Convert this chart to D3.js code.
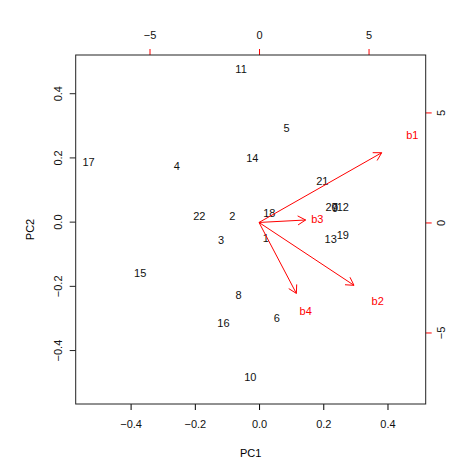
<!DOCTYPE html>
<html>
<head>
    <meta charset="utf-8">
    <style>
        body { margin: 0; background: white; }
        svg { font-family: 'Liberation Sans', Arial, sans-serif; }
    </style>
</head>
<body>
<svg width="474" height="474"></svg>
<script src="https://d3js.org/d3.v7.min.js"></script>
<script>
    // observation scores (PC1, PC2)
    let obsLabels = ["1", "2", "3", "4", "5", "6", "7", "8", "9", "10", "11",
        "12", "13", "14", "15", "16", "17", "18", "19", "20", "21", "22"]
    let pc1 = [0.021, -0.083, -0.118, -0.256, 0.086, 0.055, 0.236, -0.064, 0.237, -0.027, -0.056,
        0.261, 0.223, -0.021, -0.370, -0.111, -0.531, 0.032, 0.261, 0.226, 0.197, -0.186]
    let pc2 = [-0.051, 0.016, -0.057, 0.173, 0.291, -0.302, 0.044, -0.230, 0.043, -0.485, 0.476,
        0.044, -0.053, 0.197, -0.161, -0.315, 0.184, 0.025, -0.042, 0.044, 0.126, 0.018]

    // variable loadings (label positions, arrows drawn at 0.8)
    let varLabels = ["b1", "b2", "b3", "b4"]
    let load1 = [7.0, 5.42, 2.66, 2.13]
    let load2 = [3.96, -3.57, 0.14, -4.03]

    let mainTicks = [-0.4, -0.2, 0.0, 0.2, 0.4]
    let varTicks = [-5, 0, 5]

    let svg = d3.select("svg")
    let mLeft = 75.7, mRight = 425.7, mTop = 55, mBottom = 404

    let x = d3.scaleLinear().domain([-0.571, 0.519]).range([mLeft, mRight])
    let y = d3.scaleLinear().domain([-0.568, 0.519]).range([mBottom, mTop])
    // secondary scale for loadings
    let x2 = d3.scaleLinear().domain([-8.37, 7.61]).range([mLeft, mRight])
    let y2 = d3.scaleLinear().domain([-8.25, 7.61]).range([mBottom, mTop])

    let red = "#ff0000"
    let fmt = d3.format(".1f")

    // bottom axis
    svg.append("g")
        .attr("transform", `translate(0,${mBottom})`)
        .call(d3.axisBottom(x).tickValues(mainTicks).tickFormat(fmt).tickSize(6).tickPadding(10))
    // left axis
    let gl = svg.append("g")
        .attr("transform", `translate(${mLeft},0)`)
        .call(d3.axisLeft(y).tickValues(mainTicks).tickFormat(fmt).tickSize(6).tickSizeOuter(0))
    gl.selectAll(".tick text")
        .attr("x", 0).attr("dy", 0)
        .attr("transform", "translate(-14,0) rotate(-90)")
        .attr("text-anchor", "middle")

    // top axis (loadings)
    let gt = svg.append("g")
        .attr("transform", `translate(0,${mTop})`)
        .call(d3.axisTop(x2).tickValues(varTicks).tickSize(6).tickPadding(10))
    // right axis (loadings)
    let gr = svg.append("g")
        .attr("transform", `translate(${mRight},0)`)
        .call(d3.axisRight(y2).tickValues(varTicks).tickSize(6))
    gr.selectAll(".tick text")
        .attr("x", 0).attr("dy", 0)
        .attr("transform", "translate(19,0) rotate(-90)")
        .attr("text-anchor", "middle")

    svg.selectAll(".domain").remove()

    svg.selectAll(".tick text").style("font-size", "11px").style("fill", "#111")
        .style("font-family", "'Liberation Sans', Arial, sans-serif")
    gl.selectAll(".tick line").style("stroke", "#222")
    gt.selectAll(".tick line").style("stroke", red)
    gr.selectAll(".tick line").style("stroke", red)

    // frame (drawn over axis lines, like box())
    svg.append("rect")
        .attr("x", mLeft).attr("y", mTop)
        .attr("width", mRight - mLeft).attr("height", mBottom - mTop)
        .style("fill", "none").style("stroke", "#222").style("stroke-width", 1)

    // axis titles
    svg.append("text").attr("x", (mLeft + mRight) / 2).attr("y", 457)
        .attr("text-anchor", "middle").style("font-size", "11px").text("PC1")
    svg.append("text").attr("transform", `translate(34,${(mTop + mBottom) / 2}) rotate(-90)`)
        .attr("text-anchor", "middle").style("font-size", "11px").text("PC2")

    // observations
    svg.selectAll(".obs")
        .data(obsLabels)
        .join("text")
        .attr("class", "obs")
        .attr("x", (d, i) => x(pc1[i]))
        .attr("y", (d, i) => y(pc2[i]))
        .attr("dy", "0.35em")
        .attr("text-anchor", "middle")
        .style("font-size", "11px")
        .style("fill", "#111")
        .text(d => d)

    // arrows
    let headLen = 9, ang = Math.PI / 6
    varLabels.forEach((v, i) => {
        let x0 = x2(0), y0 = y2(0)
        let x1 = x2(load1[i] * 0.8), y1 = y2(load2[i] * 0.8)
        let th = Math.atan2(y1 - y0, x1 - x0)
        let path = d3.path()
        path.moveTo(x0, y0); path.lineTo(x1, y1)
        path.moveTo(x1 - headLen * Math.cos(th - ang), y1 - headLen * Math.sin(th - ang))
        path.lineTo(x1, y1)
        path.lineTo(x1 - headLen * Math.cos(th + ang), y1 - headLen * Math.sin(th + ang))
        svg.append("path").attr("d", path.toString())
            .style("fill", "none").style("stroke", red).style("stroke-width", 1)
        svg.append("text")
            .attr("x", x2(load1[i])).attr("y", y2(load2[i]))
            .attr("dy", "0.35em").attr("text-anchor", "middle")
            .style("font-size", "11px").style("fill", red)
            .text(v)
    })
</script>
</body>
</html>
